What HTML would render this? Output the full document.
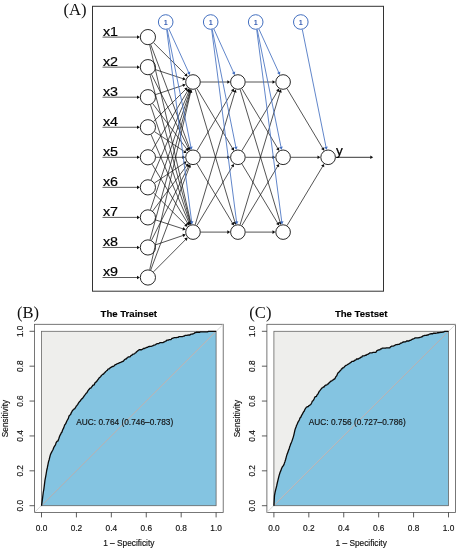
<!DOCTYPE html>
<html lang="en"><head><meta charset="utf-8"><title>Figure</title>
<style>html,body{margin:0;padding:0;background:#fff}body{width:458px;height:550px;overflow:hidden}</style></head>
<body>
<svg width="458" height="550" viewBox="0 0 458 550" style="display:block">
<rect x="0" y="0" width="458" height="550" fill="#fff"/>
<rect x="92.5" y="6.3" width="291" height="284.9" fill="none" stroke="#333" stroke-width="1"/>
<text x="63.4" y="14.6" font-family="'Liberation Serif', 'Times New Roman', serif" font-size="16.7" fill="#111">(A)</text>
<line x1="153.57" y1="42.74" x2="186.48" y2="75.51" stroke="#111" stroke-width="0.72"/><polygon points="187.54,76.57 184.22,75.80 186.76,73.25" fill="#111"/>
<line x1="150.71" y1="44.59" x2="189.77" y2="148.69" stroke="#111" stroke-width="0.72"/><polygon points="190.30,150.09 187.59,148.01 190.96,146.74" fill="#111"/>
<line x1="149.70" y1="44.89" x2="190.93" y2="223.14" stroke="#111" stroke-width="0.72"/><polygon points="191.26,224.60 188.86,222.18 192.37,221.37" fill="#111"/>
<line x1="155.50" y1="69.65" x2="184.26" y2="79.12" stroke="#111" stroke-width="0.72"/><polygon points="185.69,79.59 182.37,80.39 183.49,76.98" fill="#111"/>
<line x1="151.48" y1="74.30" x2="188.88" y2="149.07" stroke="#111" stroke-width="0.72"/><polygon points="189.55,150.41 186.65,148.63 189.87,147.01" fill="#111"/>
<line x1="150.01" y1="74.87" x2="190.57" y2="223.23" stroke="#111" stroke-width="0.72"/><polygon points="190.97,224.67 188.47,222.35 191.94,221.40" fill="#111"/>
<line x1="155.48" y1="94.64" x2="184.28" y2="84.94" stroke="#111" stroke-width="0.72"/><polygon points="185.70,84.46 183.53,87.09 182.38,83.68" fill="#111"/>
<line x1="152.70" y1="103.60" x2="187.48" y2="149.94" stroke="#111" stroke-width="0.72"/><polygon points="188.38,151.14 185.20,149.90 188.08,147.74" fill="#111"/>
<line x1="150.44" y1="104.79" x2="190.08" y2="223.37" stroke="#111" stroke-width="0.72"/><polygon points="190.56,224.80 187.93,222.62 191.35,221.48" fill="#111"/>
<line x1="153.55" y1="121.58" x2="186.51" y2="88.52" stroke="#111" stroke-width="0.72"/><polygon points="187.56,87.45 186.79,90.78 184.24,88.24" fill="#111"/>
<line x1="154.56" y1="131.69" x2="185.34" y2="152.20" stroke="#111" stroke-width="0.72"/><polygon points="186.59,153.03 183.18,152.92 185.18,149.92" fill="#111"/>
<line x1="151.06" y1="134.60" x2="189.36" y2="223.65" stroke="#111" stroke-width="0.72"/><polygon points="189.96,225.03 187.16,223.07 190.47,221.65" fill="#111"/>
<line x1="152.01" y1="150.44" x2="188.27" y2="89.89" stroke="#111" stroke-width="0.72"/><polygon points="189.04,88.61 189.10,92.02 186.01,90.17" fill="#111"/>
<line x1="155.90" y1="157.30" x2="183.80" y2="157.30" stroke="#111" stroke-width="0.72"/><polygon points="185.30,157.30 182.40,159.10 182.40,155.50" fill="#111"/>
<line x1="152.03" y1="164.15" x2="188.25" y2="224.22" stroke="#111" stroke-width="0.72"/><polygon points="189.02,225.51 185.99,223.95 189.07,222.09" fill="#111"/>
<line x1="151.05" y1="180.00" x2="189.38" y2="90.46" stroke="#111" stroke-width="0.72"/><polygon points="189.97,89.08 190.48,92.45 187.17,91.04" fill="#111"/>
<line x1="154.56" y1="182.91" x2="185.34" y2="162.40" stroke="#111" stroke-width="0.72"/><polygon points="186.59,161.57 185.18,164.68 183.18,161.68" fill="#111"/>
<line x1="153.58" y1="192.98" x2="186.47" y2="225.62" stroke="#111" stroke-width="0.72"/><polygon points="187.53,226.68 184.21,225.91 186.74,223.36" fill="#111"/>
<line x1="150.43" y1="209.81" x2="190.09" y2="90.73" stroke="#111" stroke-width="0.72"/><polygon points="190.57,89.31 191.36,92.63 187.94,91.49" fill="#111"/>
<line x1="152.70" y1="211.00" x2="187.48" y2="164.66" stroke="#111" stroke-width="0.72"/><polygon points="188.38,163.46 188.08,166.86 185.20,164.70" fill="#111"/>
<line x1="155.51" y1="219.88" x2="184.25" y2="229.25" stroke="#111" stroke-width="0.72"/><polygon points="185.68,229.71 182.36,230.53 183.48,227.10" fill="#111"/>
<line x1="150.00" y1="239.73" x2="190.58" y2="90.88" stroke="#111" stroke-width="0.72"/><polygon points="190.97,89.43 191.95,92.70 188.48,91.75" fill="#111"/>
<line x1="151.48" y1="240.30" x2="188.88" y2="165.53" stroke="#111" stroke-width="0.72"/><polygon points="189.55,164.19 189.87,167.59 186.65,165.97" fill="#111"/>
<line x1="155.47" y1="244.87" x2="184.29" y2="235.06" stroke="#111" stroke-width="0.72"/><polygon points="185.71,234.58 183.55,237.22 182.39,233.81" fill="#111"/>
<line x1="149.70" y1="269.70" x2="190.93" y2="90.96" stroke="#111" stroke-width="0.72"/><polygon points="191.27,89.50 192.37,92.73 188.86,91.92" fill="#111"/>
<line x1="150.71" y1="270.01" x2="189.77" y2="165.91" stroke="#111" stroke-width="0.72"/><polygon points="190.30,164.51 190.96,167.86 187.59,166.59" fill="#111"/>
<line x1="153.54" y1="271.82" x2="186.52" y2="238.63" stroke="#111" stroke-width="0.72"/><polygon points="187.57,237.56 186.81,240.89 184.25,238.35" fill="#111"/>
<line x1="200.70" y1="82.00" x2="228.70" y2="82.00" stroke="#111" stroke-width="0.72"/><polygon points="230.20,82.00 227.30,83.80 227.30,80.20" fill="#111"/>
<line x1="196.94" y1="88.61" x2="233.19" y2="149.40" stroke="#111" stroke-width="0.72"/><polygon points="233.96,150.69 230.93,149.12 234.02,147.27" fill="#111"/>
<line x1="195.21" y1="89.38" x2="235.26" y2="223.29" stroke="#111" stroke-width="0.72"/><polygon points="235.69,224.72 233.14,222.46 236.59,221.43" fill="#111"/>
<line x1="196.94" y1="150.69" x2="233.19" y2="89.90" stroke="#111" stroke-width="0.72"/><polygon points="233.96,88.61 234.02,92.03 230.93,90.18" fill="#111"/>
<line x1="200.70" y1="157.30" x2="228.70" y2="157.30" stroke="#111" stroke-width="0.72"/><polygon points="230.20,157.30 227.30,159.10 227.30,155.50" fill="#111"/>
<line x1="196.96" y1="163.90" x2="233.17" y2="224.21" stroke="#111" stroke-width="0.72"/><polygon points="233.94,225.50 230.90,223.94 233.99,222.09" fill="#111"/>
<line x1="195.21" y1="224.72" x2="235.26" y2="90.81" stroke="#111" stroke-width="0.72"/><polygon points="235.69,89.38 236.59,92.67 233.14,91.64" fill="#111"/>
<line x1="196.96" y1="225.50" x2="233.17" y2="165.19" stroke="#111" stroke-width="0.72"/><polygon points="233.94,163.90 233.99,167.31 230.90,165.46" fill="#111"/>
<line x1="200.70" y1="232.10" x2="228.70" y2="232.10" stroke="#111" stroke-width="0.72"/><polygon points="230.20,232.10 227.30,233.90 227.30,230.30" fill="#111"/>
<line x1="245.60" y1="82.00" x2="273.90" y2="82.00" stroke="#111" stroke-width="0.72"/><polygon points="275.40,82.00 272.50,83.80 272.50,80.20" fill="#111"/>
<line x1="241.86" y1="88.60" x2="278.37" y2="149.41" stroke="#111" stroke-width="0.72"/><polygon points="279.14,150.70 276.10,149.14 279.19,147.29" fill="#111"/>
<line x1="240.12" y1="89.37" x2="280.45" y2="223.29" stroke="#111" stroke-width="0.72"/><polygon points="280.88,224.73 278.32,222.47 281.77,221.43" fill="#111"/>
<line x1="241.86" y1="150.70" x2="278.37" y2="89.89" stroke="#111" stroke-width="0.72"/><polygon points="279.14,88.60 279.19,92.01 276.10,90.16" fill="#111"/>
<line x1="245.60" y1="157.30" x2="273.90" y2="157.30" stroke="#111" stroke-width="0.72"/><polygon points="275.40,157.30 272.50,159.10 272.50,155.50" fill="#111"/>
<line x1="241.88" y1="163.89" x2="278.34" y2="224.23" stroke="#111" stroke-width="0.72"/><polygon points="279.12,225.51 276.08,223.96 279.16,222.10" fill="#111"/>
<line x1="240.12" y1="224.73" x2="280.45" y2="90.81" stroke="#111" stroke-width="0.72"/><polygon points="280.88,89.37 281.77,92.67 278.32,91.63" fill="#111"/>
<line x1="241.88" y1="225.51" x2="278.34" y2="165.17" stroke="#111" stroke-width="0.72"/><polygon points="279.12,163.89 279.16,167.30 276.08,165.44" fill="#111"/>
<line x1="245.60" y1="232.10" x2="273.90" y2="232.10" stroke="#111" stroke-width="0.72"/><polygon points="275.40,232.10 272.50,233.90 272.50,230.30" fill="#111"/>
<line x1="287.05" y1="88.61" x2="323.38" y2="149.40" stroke="#111" stroke-width="0.72"/><polygon points="324.15,150.69 321.12,149.12 324.21,147.28" fill="#111"/>
<line x1="290.80" y1="157.30" x2="318.90" y2="157.30" stroke="#111" stroke-width="0.72"/><polygon points="320.40,157.30 317.50,159.10 317.50,155.50" fill="#111"/>
<line x1="287.07" y1="225.50" x2="323.36" y2="165.18" stroke="#111" stroke-width="0.72"/><polygon points="324.13,163.90 324.18,167.31 321.09,165.46" fill="#111"/>
<line x1="168.89" y1="29.01" x2="189.19" y2="73.63" stroke="#4470c0" stroke-width="0.85"/><polygon points="189.81,74.99 186.97,73.10 190.25,71.61" fill="#4470c0"/>
<line x1="167.22" y1="29.55" x2="191.18" y2="148.28" stroke="#4470c0" stroke-width="0.85"/><polygon points="191.48,149.75 189.14,147.27 192.67,146.55" fill="#4470c0"/>
<line x1="166.69" y1="29.64" x2="191.81" y2="222.98" stroke="#4470c0" stroke-width="0.85"/><polygon points="192.01,224.46 189.85,221.82 193.42,221.36" fill="#4470c0"/>
<line x1="213.88" y1="29.01" x2="234.10" y2="73.62" stroke="#4470c0" stroke-width="0.85"/><polygon points="234.72,74.99 231.88,73.09 235.16,71.60" fill="#4470c0"/>
<line x1="212.22" y1="29.55" x2="236.09" y2="148.28" stroke="#4470c0" stroke-width="0.85"/><polygon points="236.38,149.75 234.05,147.26 237.58,146.55" fill="#4470c0"/>
<line x1="211.69" y1="29.64" x2="236.72" y2="222.98" stroke="#4470c0" stroke-width="0.85"/><polygon points="236.91,224.46 234.75,221.82 238.32,221.36" fill="#4470c0"/>
<line x1="258.90" y1="29.00" x2="279.28" y2="73.63" stroke="#4470c0" stroke-width="0.85"/><polygon points="279.90,75.00 277.06,73.11 280.33,71.61" fill="#4470c0"/>
<line x1="257.23" y1="29.55" x2="281.27" y2="148.28" stroke="#4470c0" stroke-width="0.85"/><polygon points="281.57,149.75 279.23,147.27 282.76,146.55" fill="#4470c0"/>
<line x1="256.70" y1="29.64" x2="281.91" y2="222.98" stroke="#4470c0" stroke-width="0.85"/><polygon points="282.10,224.46 279.94,221.82 283.51,221.36" fill="#4470c0"/>
<line x1="302.32" y1="29.55" x2="326.28" y2="148.28" stroke="#4470c0" stroke-width="0.85"/><polygon points="326.58,149.75 324.24,147.27 327.77,146.55" fill="#4470c0"/>
<line x1="102.5" y1="37.10" x2="138.40" y2="37.10" stroke="#222" stroke-width="0.75"/>
<polygon points="139.90,37.10 137.00,38.90 137.00,35.30" fill="#111"/>
<text x="102.9" y="35.80" font-family="'Liberation Sans', Arial, Helvetica, sans-serif" font-size="13.4" textLength="15.1" lengthAdjust="spacingAndGlyphs" fill="#000" stroke="#000" stroke-width="0.2">x1</text>
<line x1="102.5" y1="67.15" x2="138.40" y2="67.15" stroke="#222" stroke-width="0.75"/>
<polygon points="139.90,67.15 137.00,68.95 137.00,65.35" fill="#111"/>
<text x="102.9" y="65.85" font-family="'Liberation Sans', Arial, Helvetica, sans-serif" font-size="13.4" textLength="15.1" lengthAdjust="spacingAndGlyphs" fill="#000" stroke="#000" stroke-width="0.2">x2</text>
<line x1="102.5" y1="97.20" x2="138.40" y2="97.20" stroke="#222" stroke-width="0.75"/>
<polygon points="139.90,97.20 137.00,99.00 137.00,95.40" fill="#111"/>
<text x="102.9" y="95.90" font-family="'Liberation Sans', Arial, Helvetica, sans-serif" font-size="13.4" textLength="15.1" lengthAdjust="spacingAndGlyphs" fill="#000" stroke="#000" stroke-width="0.2">x3</text>
<line x1="102.5" y1="127.25" x2="138.40" y2="127.25" stroke="#222" stroke-width="0.75"/>
<polygon points="139.90,127.25 137.00,129.05 137.00,125.45" fill="#111"/>
<text x="102.9" y="125.95" font-family="'Liberation Sans', Arial, Helvetica, sans-serif" font-size="13.4" textLength="15.1" lengthAdjust="spacingAndGlyphs" fill="#000" stroke="#000" stroke-width="0.2">x4</text>
<line x1="102.5" y1="157.30" x2="138.40" y2="157.30" stroke="#222" stroke-width="0.75"/>
<polygon points="139.90,157.30 137.00,159.10 137.00,155.50" fill="#111"/>
<text x="102.9" y="156.00" font-family="'Liberation Sans', Arial, Helvetica, sans-serif" font-size="13.4" textLength="15.1" lengthAdjust="spacingAndGlyphs" fill="#000" stroke="#000" stroke-width="0.2">x5</text>
<line x1="102.5" y1="187.35" x2="138.40" y2="187.35" stroke="#222" stroke-width="0.75"/>
<polygon points="139.90,187.35 137.00,189.15 137.00,185.55" fill="#111"/>
<text x="102.9" y="186.05" font-family="'Liberation Sans', Arial, Helvetica, sans-serif" font-size="13.4" textLength="15.1" lengthAdjust="spacingAndGlyphs" fill="#000" stroke="#000" stroke-width="0.2">x6</text>
<line x1="102.5" y1="217.40" x2="138.40" y2="217.40" stroke="#222" stroke-width="0.75"/>
<polygon points="139.90,217.40 137.00,219.20 137.00,215.60" fill="#111"/>
<text x="102.9" y="216.10" font-family="'Liberation Sans', Arial, Helvetica, sans-serif" font-size="13.4" textLength="15.1" lengthAdjust="spacingAndGlyphs" fill="#000" stroke="#000" stroke-width="0.2">x7</text>
<line x1="102.5" y1="247.45" x2="138.40" y2="247.45" stroke="#222" stroke-width="0.75"/>
<polygon points="139.90,247.45 137.00,249.25 137.00,245.65" fill="#111"/>
<text x="102.9" y="246.15" font-family="'Liberation Sans', Arial, Helvetica, sans-serif" font-size="13.4" textLength="15.1" lengthAdjust="spacingAndGlyphs" fill="#000" stroke="#000" stroke-width="0.2">x8</text>
<line x1="102.5" y1="277.50" x2="138.40" y2="277.50" stroke="#222" stroke-width="0.75"/>
<polygon points="139.90,277.50 137.00,279.30 137.00,275.70" fill="#111"/>
<text x="102.9" y="276.20" font-family="'Liberation Sans', Arial, Helvetica, sans-serif" font-size="13.4" textLength="15.1" lengthAdjust="spacingAndGlyphs" fill="#000" stroke="#000" stroke-width="0.2">x9</text>
<line x1="335.80" y1="157.3" x2="371.5" y2="157.3" stroke="#111" stroke-width="0.85"/>
<polygon points="373.20,157.30 370.30,159.10 370.30,155.50" fill="#111"/>
<text x="336.1" y="155.4" font-family="'Liberation Sans', Arial, Helvetica, sans-serif" font-size="13.6" fill="#000" stroke="#000" stroke-width="0.2">y</text>
<circle cx="147.9" cy="37.10" r="7.6" fill="none" stroke="#111" stroke-width="0.9"/>
<circle cx="147.9" cy="67.15" r="7.6" fill="none" stroke="#111" stroke-width="0.9"/>
<circle cx="147.9" cy="97.20" r="7.6" fill="none" stroke="#111" stroke-width="0.9"/>
<circle cx="147.9" cy="127.25" r="7.6" fill="none" stroke="#111" stroke-width="0.9"/>
<circle cx="147.9" cy="157.30" r="7.6" fill="none" stroke="#111" stroke-width="0.9"/>
<circle cx="147.9" cy="187.35" r="7.6" fill="none" stroke="#111" stroke-width="0.9"/>
<circle cx="147.9" cy="217.40" r="7.6" fill="none" stroke="#111" stroke-width="0.9"/>
<circle cx="147.9" cy="247.45" r="7.6" fill="none" stroke="#111" stroke-width="0.9"/>
<circle cx="147.9" cy="277.50" r="7.6" fill="none" stroke="#111" stroke-width="0.9"/>
<circle cx="193.0" cy="82.0" r="7.3" fill="none" stroke="#111" stroke-width="0.9"/>
<circle cx="193.0" cy="157.3" r="7.3" fill="none" stroke="#111" stroke-width="0.9"/>
<circle cx="193.0" cy="232.1" r="7.3" fill="none" stroke="#111" stroke-width="0.9"/>
<circle cx="237.9" cy="82.0" r="7.3" fill="none" stroke="#111" stroke-width="0.9"/>
<circle cx="237.9" cy="157.3" r="7.3" fill="none" stroke="#111" stroke-width="0.9"/>
<circle cx="237.9" cy="232.1" r="7.3" fill="none" stroke="#111" stroke-width="0.9"/>
<circle cx="283.1" cy="82.0" r="7.3" fill="none" stroke="#111" stroke-width="0.9"/>
<circle cx="283.1" cy="157.3" r="7.3" fill="none" stroke="#111" stroke-width="0.9"/>
<circle cx="283.1" cy="232.1" r="7.3" fill="none" stroke="#111" stroke-width="0.9"/>
<circle cx="328.1" cy="157.3" r="7.3" fill="none" stroke="#111" stroke-width="0.9"/>
<circle cx="165.7" cy="22.0" r="7.3" fill="none" stroke="#4470c0" stroke-width="1"/>
<text x="165.7" y="24.9" text-anchor="middle" font-family="'Liberation Sans', Arial, Helvetica, sans-serif" font-size="7.2" font-weight="bold" fill="#3c62b4">1</text>
<circle cx="210.7" cy="22.0" r="7.3" fill="none" stroke="#4470c0" stroke-width="1"/>
<text x="210.7" y="24.9" text-anchor="middle" font-family="'Liberation Sans', Arial, Helvetica, sans-serif" font-size="7.2" font-weight="bold" fill="#3c62b4">1</text>
<circle cx="255.7" cy="22.0" r="7.3" fill="none" stroke="#4470c0" stroke-width="1"/>
<text x="255.7" y="24.9" text-anchor="middle" font-family="'Liberation Sans', Arial, Helvetica, sans-serif" font-size="7.2" font-weight="bold" fill="#3c62b4">1</text>
<circle cx="300.8" cy="22.0" r="7.3" fill="none" stroke="#4470c0" stroke-width="1"/>
<text x="300.8" y="24.9" text-anchor="middle" font-family="'Liberation Sans', Arial, Helvetica, sans-serif" font-size="7.2" font-weight="bold" fill="#3c62b4">1</text>
<text x="16.9" y="317.7" font-family="'Liberation Serif', 'Times New Roman', serif" font-size="16.6" fill="#111">(B)</text>
<text x="128.8" y="317.4" text-anchor="middle" font-family="'Liberation Sans', Arial, Helvetica, sans-serif" font-size="9.6" font-weight="bold" fill="#000" stroke="#000" stroke-width="0.15">The Trainset</text>
<rect x="34.5" y="324.3" width="188.7" height="188.1" fill="#fff" stroke="#555" stroke-width="0.8"/>
<rect x="41.5" y="331.3" width="174.6" height="174.4" fill="#eeeeec"/>
<path d="M41.50,505.70 L42.08,501.85 L42.66,497.24 L43.25,492.51 L43.83,489.27 L44.41,484.88 L44.99,480.01 L45.57,477.18 L46.16,473.86 L46.74,470.25 L47.32,467.73 L47.90,464.88 L48.48,461.93 L49.07,460.02 L49.65,457.62 L50.23,455.34 L50.81,453.80 L51.39,452.64 L51.98,451.45 L52.56,450.49 L53.14,449.26 L53.72,447.66 L54.30,446.51 L54.89,445.65 L55.47,444.83 L56.05,442.89 L56.63,441.94 L57.21,441.17 L57.80,441.17 L58.38,439.88 L58.96,438.26 L59.54,436.35 L60.12,435.17 L60.71,434.13 L61.29,432.79 L61.87,432.26 L62.45,430.43 L63.03,429.10 L63.62,428.12 L64.20,426.36 L64.78,424.70 L65.36,424.24 L65.94,423.14 L66.53,421.68 L67.11,420.46 L67.69,419.46 L68.27,418.57 L68.85,416.58 L69.44,415.35 L70.02,415.02 L70.60,414.55 L71.18,412.93 L71.76,411.91 L72.35,410.72 L72.93,410.01 L73.51,409.76 L74.09,408.85 L74.67,408.81 L75.26,407.97 L75.84,406.96 L76.42,405.90 L77.00,405.38 L77.58,404.55 L78.17,403.57 L78.75,402.74 L79.33,401.87 L79.91,401.20 L80.49,400.66 L81.08,399.66 L81.66,399.03 L82.24,398.61 L82.82,397.96 L83.40,397.05 L83.99,396.25 L84.57,395.39 L85.15,394.62 L85.73,393.80 L86.31,393.11 L86.90,392.73 L87.48,391.64 L88.06,390.55 L88.64,389.83 L89.22,389.29 L89.81,388.46 L90.39,388.18 L90.97,388.02 L91.55,387.00 L92.13,386.48 L92.72,385.37 L93.30,385.06 L93.88,385.06 L94.46,384.25 L95.04,382.70 L95.63,382.21 L96.21,381.95 L96.79,381.31 L97.37,380.30 L97.95,379.52 L98.54,378.93 L99.12,377.93 L99.70,377.39 L100.28,377.05 L100.86,376.39 L101.45,375.43 L102.03,374.87 L102.61,374.28 L103.19,374.28 L103.77,373.80 L104.36,372.96 L104.94,372.56 L105.52,371.64 L106.10,371.14 L106.68,370.61 L107.27,370.47 L107.85,369.32 L108.43,368.94 L109.01,368.94 L109.59,368.71 L110.18,367.56 L110.76,367.56 L111.34,367.16 L111.92,366.65 L112.50,366.48 L113.09,366.48 L113.67,366.12 L114.25,365.65 L114.83,365.02 L115.41,364.64 L116.00,364.53 L116.58,364.06 L117.16,363.76 L117.74,363.55 L118.32,363.33 L118.91,363.15 L119.49,362.61 L120.07,362.61 L120.65,362.48 L121.23,361.95 L121.82,361.95 L122.40,361.46 L122.98,361.46 L123.56,360.95 L124.14,360.08 L124.73,359.47 L125.31,359.18 L125.89,358.92 L126.47,358.92 L127.05,357.83 L127.64,357.49 L128.22,356.96 L128.80,356.96 L129.38,356.84 L129.96,356.84 L130.55,356.04 L131.13,355.28 L131.71,355.28 L132.29,354.90 L132.87,354.13 L133.46,354.13 L134.04,354.13 L134.62,353.63 L135.20,353.00 L135.78,352.72 L136.37,352.05 L136.95,351.53 L137.53,351.03 L138.11,350.62 L138.69,350.04 L139.28,349.73 L139.86,349.73 L140.44,349.73 L141.02,349.73 L141.60,349.73 L142.19,349.42 L142.77,349.01 L143.35,348.52 L143.93,348.52 L144.51,348.52 L145.10,348.19 L145.68,347.90 L146.26,347.70 L146.84,347.42 L147.42,347.41 L148.01,346.85 L148.59,346.58 L149.17,346.49 L149.75,346.49 L150.33,346.30 L150.92,346.30 L151.50,346.30 L152.08,345.94 L152.66,345.94 L153.24,345.43 L153.83,345.05 L154.41,345.05 L154.99,344.88 L155.57,344.62 L156.15,344.15 L156.74,343.77 L157.32,343.68 L157.90,343.68 L158.48,343.55 L159.06,343.32 L159.65,342.86 L160.23,342.68 L160.81,342.68 L161.39,342.68 L161.97,342.68 L162.56,342.58 L163.14,342.54 L163.72,342.13 L164.30,341.95 L164.88,341.58 L165.47,341.18 L166.05,341.18 L166.63,340.24 L167.21,340.24 L167.79,340.11 L168.38,340.11 L168.96,339.72 L169.54,339.72 L170.12,339.72 L170.70,339.72 L171.29,339.25 L171.87,338.36 L172.45,338.36 L173.03,338.07 L173.61,337.94 L174.20,337.71 L174.78,337.63 L175.36,337.63 L175.94,337.59 L176.52,337.59 L177.11,337.38 L177.69,337.38 L178.27,337.38 L178.85,336.69 L179.43,336.69 L180.02,336.69 L180.60,336.62 L181.18,336.62 L181.76,336.62 L182.34,336.62 L182.93,336.46 L183.51,336.19 L184.09,336.19 L184.67,335.71 L185.25,335.30 L185.84,335.30 L186.42,335.30 L187.00,335.30 L187.58,335.07 L188.16,335.07 L188.75,335.02 L189.33,335.02 L189.91,335.02 L190.49,334.63 L191.07,334.08 L191.66,334.08 L192.24,334.08 L192.82,333.81 L193.40,333.75 L193.98,333.52 L194.57,332.93 L195.15,332.67 L195.73,332.67 L196.31,332.24 L196.89,332.24 L197.48,332.24 L198.06,332.24 L198.64,332.24 L199.22,332.24 L199.80,332.24 L200.39,331.90 L200.97,331.90 L201.55,331.90 L202.13,331.90 L202.71,331.90 L203.30,331.90 L203.88,331.90 L204.46,331.90 L205.04,331.90 L205.62,331.90 L206.21,331.90 L206.79,331.90 L207.37,331.90 L207.95,331.65 L208.53,331.42 L209.12,331.42 L209.70,331.42 L210.28,331.42 L210.86,331.42 L211.44,331.30 L212.03,331.30 L212.61,331.30 L213.19,331.30 L213.77,331.30 L214.35,331.30 L214.94,331.30 L215.52,331.30 L216.10,331.30 L216.10,505.70 L41.50,505.70 Z" fill="#84c4e1"/>
<line x1="34.5" y1="512.4" x2="223.2" y2="324.3" stroke="#d4d4d4" stroke-width="0.9"/>
<line x1="41.5" y1="505.7" x2="216.1" y2="331.3" stroke="#a9abb0" stroke-width="1"/>
<rect x="41.5" y="331.3" width="174.6" height="174.4" fill="none" stroke="#666" stroke-width="0.8"/>
<path d="M41.50,505.70 L42.08,501.85 L42.66,497.24 L43.25,492.51 L43.83,489.27 L44.41,484.88 L44.99,480.01 L45.57,477.18 L46.16,473.86 L46.74,470.25 L47.32,467.73 L47.90,464.88 L48.48,461.93 L49.07,460.02 L49.65,457.62 L50.23,455.34 L50.81,453.80 L51.39,452.64 L51.98,451.45 L52.56,450.49 L53.14,449.26 L53.72,447.66 L54.30,446.51 L54.89,445.65 L55.47,444.83 L56.05,442.89 L56.63,441.94 L57.21,441.17 L57.80,441.17 L58.38,439.88 L58.96,438.26 L59.54,436.35 L60.12,435.17 L60.71,434.13 L61.29,432.79 L61.87,432.26 L62.45,430.43 L63.03,429.10 L63.62,428.12 L64.20,426.36 L64.78,424.70 L65.36,424.24 L65.94,423.14 L66.53,421.68 L67.11,420.46 L67.69,419.46 L68.27,418.57 L68.85,416.58 L69.44,415.35 L70.02,415.02 L70.60,414.55 L71.18,412.93 L71.76,411.91 L72.35,410.72 L72.93,410.01 L73.51,409.76 L74.09,408.85 L74.67,408.81 L75.26,407.97 L75.84,406.96 L76.42,405.90 L77.00,405.38 L77.58,404.55 L78.17,403.57 L78.75,402.74 L79.33,401.87 L79.91,401.20 L80.49,400.66 L81.08,399.66 L81.66,399.03 L82.24,398.61 L82.82,397.96 L83.40,397.05 L83.99,396.25 L84.57,395.39 L85.15,394.62 L85.73,393.80 L86.31,393.11 L86.90,392.73 L87.48,391.64 L88.06,390.55 L88.64,389.83 L89.22,389.29 L89.81,388.46 L90.39,388.18 L90.97,388.02 L91.55,387.00 L92.13,386.48 L92.72,385.37 L93.30,385.06 L93.88,385.06 L94.46,384.25 L95.04,382.70 L95.63,382.21 L96.21,381.95 L96.79,381.31 L97.37,380.30 L97.95,379.52 L98.54,378.93 L99.12,377.93 L99.70,377.39 L100.28,377.05 L100.86,376.39 L101.45,375.43 L102.03,374.87 L102.61,374.28 L103.19,374.28 L103.77,373.80 L104.36,372.96 L104.94,372.56 L105.52,371.64 L106.10,371.14 L106.68,370.61 L107.27,370.47 L107.85,369.32 L108.43,368.94 L109.01,368.94 L109.59,368.71 L110.18,367.56 L110.76,367.56 L111.34,367.16 L111.92,366.65 L112.50,366.48 L113.09,366.48 L113.67,366.12 L114.25,365.65 L114.83,365.02 L115.41,364.64 L116.00,364.53 L116.58,364.06 L117.16,363.76 L117.74,363.55 L118.32,363.33 L118.91,363.15 L119.49,362.61 L120.07,362.61 L120.65,362.48 L121.23,361.95 L121.82,361.95 L122.40,361.46 L122.98,361.46 L123.56,360.95 L124.14,360.08 L124.73,359.47 L125.31,359.18 L125.89,358.92 L126.47,358.92 L127.05,357.83 L127.64,357.49 L128.22,356.96 L128.80,356.96 L129.38,356.84 L129.96,356.84 L130.55,356.04 L131.13,355.28 L131.71,355.28 L132.29,354.90 L132.87,354.13 L133.46,354.13 L134.04,354.13 L134.62,353.63 L135.20,353.00 L135.78,352.72 L136.37,352.05 L136.95,351.53 L137.53,351.03 L138.11,350.62 L138.69,350.04 L139.28,349.73 L139.86,349.73 L140.44,349.73 L141.02,349.73 L141.60,349.73 L142.19,349.42 L142.77,349.01 L143.35,348.52 L143.93,348.52 L144.51,348.52 L145.10,348.19 L145.68,347.90 L146.26,347.70 L146.84,347.42 L147.42,347.41 L148.01,346.85 L148.59,346.58 L149.17,346.49 L149.75,346.49 L150.33,346.30 L150.92,346.30 L151.50,346.30 L152.08,345.94 L152.66,345.94 L153.24,345.43 L153.83,345.05 L154.41,345.05 L154.99,344.88 L155.57,344.62 L156.15,344.15 L156.74,343.77 L157.32,343.68 L157.90,343.68 L158.48,343.55 L159.06,343.32 L159.65,342.86 L160.23,342.68 L160.81,342.68 L161.39,342.68 L161.97,342.68 L162.56,342.58 L163.14,342.54 L163.72,342.13 L164.30,341.95 L164.88,341.58 L165.47,341.18 L166.05,341.18 L166.63,340.24 L167.21,340.24 L167.79,340.11 L168.38,340.11 L168.96,339.72 L169.54,339.72 L170.12,339.72 L170.70,339.72 L171.29,339.25 L171.87,338.36 L172.45,338.36 L173.03,338.07 L173.61,337.94 L174.20,337.71 L174.78,337.63 L175.36,337.63 L175.94,337.59 L176.52,337.59 L177.11,337.38 L177.69,337.38 L178.27,337.38 L178.85,336.69 L179.43,336.69 L180.02,336.69 L180.60,336.62 L181.18,336.62 L181.76,336.62 L182.34,336.62 L182.93,336.46 L183.51,336.19 L184.09,336.19 L184.67,335.71 L185.25,335.30 L185.84,335.30 L186.42,335.30 L187.00,335.30 L187.58,335.07 L188.16,335.07 L188.75,335.02 L189.33,335.02 L189.91,335.02 L190.49,334.63 L191.07,334.08 L191.66,334.08 L192.24,334.08 L192.82,333.81 L193.40,333.75 L193.98,333.52 L194.57,332.93 L195.15,332.67 L195.73,332.67 L196.31,332.24 L196.89,332.24 L197.48,332.24 L198.06,332.24 L198.64,332.24 L199.22,332.24 L199.80,332.24 L200.39,331.90 L200.97,331.90 L201.55,331.90 L202.13,331.90 L202.71,331.90 L203.30,331.90 L203.88,331.90 L204.46,331.90 L205.04,331.90 L205.62,331.90 L206.21,331.90 L206.79,331.90 L207.37,331.90 L207.95,331.65 L208.53,331.42 L209.12,331.42 L209.70,331.42 L210.28,331.42 L210.86,331.42 L211.44,331.30 L212.03,331.30 L212.61,331.30 L213.19,331.30 L213.77,331.30 L214.35,331.30 L214.94,331.30 L215.52,331.30 L216.10,331.30" fill="none" stroke="#0a0a0a" stroke-width="1.3" stroke-linejoin="round"/>
<line x1="29.5" y1="505.70" x2="34.5" y2="505.70" stroke="#333" stroke-width="0.8"/>
<line x1="41.50" y1="512.4" x2="41.50" y2="517.4" stroke="#333" stroke-width="0.8"/>
<text x="41.50" y="531.4" text-anchor="middle" font-family="'Liberation Sans', Arial, Helvetica, sans-serif" font-size="8.3" fill="#111" stroke="#111" stroke-width="0.15">0.0</text>
<text transform="translate(23.00,505.70) rotate(-90)" text-anchor="middle" font-family="'Liberation Sans', Arial, Helvetica, sans-serif" font-size="8.3" fill="#111" stroke="#111" stroke-width="0.15">0.0</text>
<line x1="29.5" y1="470.82" x2="34.5" y2="470.82" stroke="#333" stroke-width="0.8"/>
<line x1="76.42" y1="512.4" x2="76.42" y2="517.4" stroke="#333" stroke-width="0.8"/>
<text x="76.42" y="531.4" text-anchor="middle" font-family="'Liberation Sans', Arial, Helvetica, sans-serif" font-size="8.3" fill="#111" stroke="#111" stroke-width="0.15">0.2</text>
<text transform="translate(23.00,470.82) rotate(-90)" text-anchor="middle" font-family="'Liberation Sans', Arial, Helvetica, sans-serif" font-size="8.3" fill="#111" stroke="#111" stroke-width="0.15">0.2</text>
<line x1="29.5" y1="435.94" x2="34.5" y2="435.94" stroke="#333" stroke-width="0.8"/>
<line x1="111.34" y1="512.4" x2="111.34" y2="517.4" stroke="#333" stroke-width="0.8"/>
<text x="111.34" y="531.4" text-anchor="middle" font-family="'Liberation Sans', Arial, Helvetica, sans-serif" font-size="8.3" fill="#111" stroke="#111" stroke-width="0.15">0.4</text>
<text transform="translate(23.00,435.94) rotate(-90)" text-anchor="middle" font-family="'Liberation Sans', Arial, Helvetica, sans-serif" font-size="8.3" fill="#111" stroke="#111" stroke-width="0.15">0.4</text>
<line x1="29.5" y1="401.06" x2="34.5" y2="401.06" stroke="#333" stroke-width="0.8"/>
<line x1="146.26" y1="512.4" x2="146.26" y2="517.4" stroke="#333" stroke-width="0.8"/>
<text x="146.26" y="531.4" text-anchor="middle" font-family="'Liberation Sans', Arial, Helvetica, sans-serif" font-size="8.3" fill="#111" stroke="#111" stroke-width="0.15">0.6</text>
<text transform="translate(23.00,401.06) rotate(-90)" text-anchor="middle" font-family="'Liberation Sans', Arial, Helvetica, sans-serif" font-size="8.3" fill="#111" stroke="#111" stroke-width="0.15">0.6</text>
<line x1="29.5" y1="366.18" x2="34.5" y2="366.18" stroke="#333" stroke-width="0.8"/>
<line x1="181.18" y1="512.4" x2="181.18" y2="517.4" stroke="#333" stroke-width="0.8"/>
<text x="181.18" y="531.4" text-anchor="middle" font-family="'Liberation Sans', Arial, Helvetica, sans-serif" font-size="8.3" fill="#111" stroke="#111" stroke-width="0.15">0.8</text>
<text transform="translate(23.00,366.18) rotate(-90)" text-anchor="middle" font-family="'Liberation Sans', Arial, Helvetica, sans-serif" font-size="8.3" fill="#111" stroke="#111" stroke-width="0.15">0.8</text>
<line x1="29.5" y1="331.30" x2="34.5" y2="331.30" stroke="#333" stroke-width="0.8"/>
<line x1="216.10" y1="512.4" x2="216.10" y2="517.4" stroke="#333" stroke-width="0.8"/>
<text x="216.10" y="531.4" text-anchor="middle" font-family="'Liberation Sans', Arial, Helvetica, sans-serif" font-size="8.3" fill="#111" stroke="#111" stroke-width="0.15">1.0</text>
<text transform="translate(23.00,331.30) rotate(-90)" text-anchor="middle" font-family="'Liberation Sans', Arial, Helvetica, sans-serif" font-size="8.3" fill="#111" stroke="#111" stroke-width="0.15">1.0</text>
<text x="128.8" y="546" text-anchor="middle" font-family="'Liberation Sans', Arial, Helvetica, sans-serif" font-size="8.3" fill="#111" stroke="#111" stroke-width="0.15">1 – Specificity</text>
<text transform="translate(7.50,418.50) rotate(-90)" text-anchor="middle" font-family="'Liberation Sans', Arial, Helvetica, sans-serif" font-size="8.3" fill="#111" stroke="#111" stroke-width="0.15">Sensitivity</text>
<text x="76.3" y="424.5" font-family="'Liberation Sans', Arial, Helvetica, sans-serif" font-size="8.3" fill="#111" stroke="#111" stroke-width="0.15">AUC: 0.764 (0.746–0.783)</text>
<text x="249.3" y="317.7" font-family="'Liberation Serif', 'Times New Roman', serif" font-size="16.6" fill="#111">(C)</text>
<text x="361.2" y="317.4" text-anchor="middle" font-family="'Liberation Sans', Arial, Helvetica, sans-serif" font-size="9.6" font-weight="bold" fill="#000" stroke="#000" stroke-width="0.15">The Testset</text>
<rect x="266.9" y="324.3" width="188.7" height="188.1" fill="#fff" stroke="#555" stroke-width="0.8"/>
<rect x="273.9" y="331.3" width="174.6" height="174.4" fill="#eeeeec"/>
<path d="M273.90,505.70 L274.48,495.61 L275.06,492.41 L275.65,489.80 L276.23,487.59 L276.81,485.23 L277.39,482.50 L277.97,480.16 L278.56,477.60 L279.14,475.38 L279.72,473.55 L280.30,471.82 L280.88,470.64 L281.47,468.78 L282.05,467.54 L282.63,466.36 L283.21,465.90 L283.79,464.93 L284.38,463.33 L284.96,461.63 L285.54,459.75 L286.12,457.64 L286.70,455.38 L287.29,453.86 L287.87,452.18 L288.45,450.56 L289.03,449.31 L289.61,447.08 L290.20,445.52 L290.78,443.73 L291.36,442.59 L291.94,441.13 L292.52,439.40 L293.11,437.59 L293.69,435.58 L294.27,433.09 L294.85,430.39 L295.43,428.39 L296.02,427.06 L296.60,425.19 L297.18,424.23 L297.76,422.76 L298.34,421.38 L298.93,420.77 L299.51,419.41 L300.09,417.76 L300.67,417.41 L301.25,416.13 L301.84,414.97 L302.42,414.14 L303.00,412.82 L303.58,411.85 L304.16,411.31 L304.75,409.83 L305.33,408.67 L305.91,407.96 L306.49,407.20 L307.07,406.90 L307.66,406.57 L308.24,406.57 L308.82,405.75 L309.40,405.45 L309.98,405.00 L310.57,404.72 L311.15,403.80 L311.73,402.71 L312.31,401.12 L312.89,400.88 L313.48,400.18 L314.06,398.95 L314.64,397.56 L315.22,396.74 L315.80,396.72 L316.39,396.50 L316.97,395.10 L317.55,394.35 L318.13,393.72 L318.71,392.35 L319.30,391.24 L319.88,390.60 L320.46,389.86 L321.04,389.07 L321.62,388.21 L322.21,387.85 L322.79,387.46 L323.37,387.02 L323.95,387.02 L324.53,386.20 L325.12,385.56 L325.70,385.13 L326.28,385.13 L326.86,384.98 L327.44,384.03 L328.03,384.03 L328.61,383.47 L329.19,382.52 L329.77,382.52 L330.35,381.53 L330.94,381.15 L331.52,381.01 L332.10,380.60 L332.68,380.11 L333.26,379.85 L333.85,379.21 L334.43,379.21 L335.01,378.52 L335.59,377.18 L336.17,376.34 L336.76,375.73 L337.34,374.37 L337.92,373.04 L338.50,372.50 L339.08,372.04 L339.67,371.31 L340.25,370.67 L340.83,370.10 L341.41,368.99 L341.99,368.91 L342.58,367.86 L343.16,367.86 L343.74,367.66 L344.32,366.89 L344.90,366.15 L345.49,365.67 L346.07,365.40 L346.65,365.13 L347.23,364.80 L347.81,364.30 L348.40,364.09 L348.98,363.65 L349.56,363.21 L350.14,363.01 L350.72,362.51 L351.31,362.16 L351.89,361.37 L352.47,361.34 L353.05,361.34 L353.63,361.25 L354.22,360.90 L354.80,360.27 L355.38,360.20 L355.96,359.80 L356.54,359.00 L357.13,359.00 L357.71,359.00 L358.29,358.99 L358.87,358.47 L359.45,358.11 L360.04,358.00 L360.62,357.45 L361.20,357.15 L361.78,357.10 L362.36,355.99 L362.95,355.94 L363.53,355.94 L364.11,355.81 L364.69,355.59 L365.27,355.27 L365.86,355.27 L366.44,355.21 L367.02,354.32 L367.60,354.32 L368.18,354.22 L368.77,353.66 L369.35,353.33 L369.93,352.89 L370.51,352.89 L371.09,352.89 L371.68,352.89 L372.26,352.83 L372.84,352.41 L373.42,352.41 L374.00,352.41 L374.59,352.41 L375.17,352.30 L375.75,352.30 L376.33,351.73 L376.91,350.68 L377.50,350.42 L378.08,350.23 L378.66,349.85 L379.24,349.78 L379.82,349.73 L380.41,349.10 L380.99,348.85 L381.57,348.85 L382.15,348.12 L382.73,348.12 L383.32,348.12 L383.90,348.12 L384.48,348.12 L385.06,348.11 L385.64,348.05 L386.23,347.82 L386.81,347.82 L387.39,347.82 L387.97,347.82 L388.55,347.82 L389.14,347.82 L389.72,347.82 L390.30,347.03 L390.88,346.65 L391.46,346.14 L392.05,346.14 L392.63,346.14 L393.21,346.14 L393.79,345.99 L394.37,345.32 L394.96,345.32 L395.54,344.95 L396.12,344.68 L396.70,344.68 L397.28,344.68 L397.87,344.43 L398.45,344.35 L399.03,344.35 L399.61,343.95 L400.19,343.64 L400.78,343.04 L401.36,343.04 L401.94,342.84 L402.52,342.34 L403.10,341.99 L403.69,341.99 L404.27,341.99 L404.85,341.86 L405.43,341.76 L406.01,341.61 L406.60,341.02 L407.18,341.02 L407.76,341.02 L408.34,341.02 L408.92,341.02 L409.51,340.65 L410.09,340.27 L410.67,340.27 L411.25,339.98 L411.83,339.46 L412.42,339.37 L413.00,338.85 L413.58,338.85 L414.16,338.54 L414.74,338.12 L415.33,337.78 L415.91,337.78 L416.49,337.78 L417.07,337.78 L417.65,337.78 L418.24,337.78 L418.82,337.69 L419.40,337.69 L419.98,337.46 L420.56,337.24 L421.15,336.98 L421.73,336.95 L422.31,336.58 L422.89,335.83 L423.47,335.83 L424.06,335.72 L424.64,335.39 L425.22,335.39 L425.80,335.39 L426.38,335.39 L426.97,335.00 L427.55,335.00 L428.13,335.00 L428.71,334.55 L429.29,334.18 L429.88,334.16 L430.46,333.82 L431.04,333.76 L431.62,333.76 L432.20,333.76 L432.79,333.76 L433.37,333.26 L433.95,333.26 L434.53,333.26 L435.11,333.26 L435.70,333.26 L436.28,333.17 L436.86,333.17 L437.44,332.77 L438.02,332.77 L438.61,332.73 L439.19,332.68 L439.77,332.68 L440.35,332.33 L440.93,332.28 L441.52,332.28 L442.10,332.28 L442.68,332.20 L443.26,332.17 L443.84,331.74 L444.43,331.51 L445.01,331.39 L445.59,331.39 L446.17,331.30 L446.75,331.30 L447.34,331.30 L447.92,331.30 L448.50,331.30 L448.50,505.70 L273.90,505.70 Z" fill="#84c4e1"/>
<line x1="266.9" y1="512.4" x2="455.59999999999997" y2="324.3" stroke="#d4d4d4" stroke-width="0.9"/>
<line x1="273.9" y1="505.7" x2="448.5" y2="331.3" stroke="#a9abb0" stroke-width="1"/>
<rect x="273.9" y="331.3" width="174.6" height="174.4" fill="none" stroke="#666" stroke-width="0.8"/>
<path d="M273.90,505.70 L274.48,495.61 L275.06,492.41 L275.65,489.80 L276.23,487.59 L276.81,485.23 L277.39,482.50 L277.97,480.16 L278.56,477.60 L279.14,475.38 L279.72,473.55 L280.30,471.82 L280.88,470.64 L281.47,468.78 L282.05,467.54 L282.63,466.36 L283.21,465.90 L283.79,464.93 L284.38,463.33 L284.96,461.63 L285.54,459.75 L286.12,457.64 L286.70,455.38 L287.29,453.86 L287.87,452.18 L288.45,450.56 L289.03,449.31 L289.61,447.08 L290.20,445.52 L290.78,443.73 L291.36,442.59 L291.94,441.13 L292.52,439.40 L293.11,437.59 L293.69,435.58 L294.27,433.09 L294.85,430.39 L295.43,428.39 L296.02,427.06 L296.60,425.19 L297.18,424.23 L297.76,422.76 L298.34,421.38 L298.93,420.77 L299.51,419.41 L300.09,417.76 L300.67,417.41 L301.25,416.13 L301.84,414.97 L302.42,414.14 L303.00,412.82 L303.58,411.85 L304.16,411.31 L304.75,409.83 L305.33,408.67 L305.91,407.96 L306.49,407.20 L307.07,406.90 L307.66,406.57 L308.24,406.57 L308.82,405.75 L309.40,405.45 L309.98,405.00 L310.57,404.72 L311.15,403.80 L311.73,402.71 L312.31,401.12 L312.89,400.88 L313.48,400.18 L314.06,398.95 L314.64,397.56 L315.22,396.74 L315.80,396.72 L316.39,396.50 L316.97,395.10 L317.55,394.35 L318.13,393.72 L318.71,392.35 L319.30,391.24 L319.88,390.60 L320.46,389.86 L321.04,389.07 L321.62,388.21 L322.21,387.85 L322.79,387.46 L323.37,387.02 L323.95,387.02 L324.53,386.20 L325.12,385.56 L325.70,385.13 L326.28,385.13 L326.86,384.98 L327.44,384.03 L328.03,384.03 L328.61,383.47 L329.19,382.52 L329.77,382.52 L330.35,381.53 L330.94,381.15 L331.52,381.01 L332.10,380.60 L332.68,380.11 L333.26,379.85 L333.85,379.21 L334.43,379.21 L335.01,378.52 L335.59,377.18 L336.17,376.34 L336.76,375.73 L337.34,374.37 L337.92,373.04 L338.50,372.50 L339.08,372.04 L339.67,371.31 L340.25,370.67 L340.83,370.10 L341.41,368.99 L341.99,368.91 L342.58,367.86 L343.16,367.86 L343.74,367.66 L344.32,366.89 L344.90,366.15 L345.49,365.67 L346.07,365.40 L346.65,365.13 L347.23,364.80 L347.81,364.30 L348.40,364.09 L348.98,363.65 L349.56,363.21 L350.14,363.01 L350.72,362.51 L351.31,362.16 L351.89,361.37 L352.47,361.34 L353.05,361.34 L353.63,361.25 L354.22,360.90 L354.80,360.27 L355.38,360.20 L355.96,359.80 L356.54,359.00 L357.13,359.00 L357.71,359.00 L358.29,358.99 L358.87,358.47 L359.45,358.11 L360.04,358.00 L360.62,357.45 L361.20,357.15 L361.78,357.10 L362.36,355.99 L362.95,355.94 L363.53,355.94 L364.11,355.81 L364.69,355.59 L365.27,355.27 L365.86,355.27 L366.44,355.21 L367.02,354.32 L367.60,354.32 L368.18,354.22 L368.77,353.66 L369.35,353.33 L369.93,352.89 L370.51,352.89 L371.09,352.89 L371.68,352.89 L372.26,352.83 L372.84,352.41 L373.42,352.41 L374.00,352.41 L374.59,352.41 L375.17,352.30 L375.75,352.30 L376.33,351.73 L376.91,350.68 L377.50,350.42 L378.08,350.23 L378.66,349.85 L379.24,349.78 L379.82,349.73 L380.41,349.10 L380.99,348.85 L381.57,348.85 L382.15,348.12 L382.73,348.12 L383.32,348.12 L383.90,348.12 L384.48,348.12 L385.06,348.11 L385.64,348.05 L386.23,347.82 L386.81,347.82 L387.39,347.82 L387.97,347.82 L388.55,347.82 L389.14,347.82 L389.72,347.82 L390.30,347.03 L390.88,346.65 L391.46,346.14 L392.05,346.14 L392.63,346.14 L393.21,346.14 L393.79,345.99 L394.37,345.32 L394.96,345.32 L395.54,344.95 L396.12,344.68 L396.70,344.68 L397.28,344.68 L397.87,344.43 L398.45,344.35 L399.03,344.35 L399.61,343.95 L400.19,343.64 L400.78,343.04 L401.36,343.04 L401.94,342.84 L402.52,342.34 L403.10,341.99 L403.69,341.99 L404.27,341.99 L404.85,341.86 L405.43,341.76 L406.01,341.61 L406.60,341.02 L407.18,341.02 L407.76,341.02 L408.34,341.02 L408.92,341.02 L409.51,340.65 L410.09,340.27 L410.67,340.27 L411.25,339.98 L411.83,339.46 L412.42,339.37 L413.00,338.85 L413.58,338.85 L414.16,338.54 L414.74,338.12 L415.33,337.78 L415.91,337.78 L416.49,337.78 L417.07,337.78 L417.65,337.78 L418.24,337.78 L418.82,337.69 L419.40,337.69 L419.98,337.46 L420.56,337.24 L421.15,336.98 L421.73,336.95 L422.31,336.58 L422.89,335.83 L423.47,335.83 L424.06,335.72 L424.64,335.39 L425.22,335.39 L425.80,335.39 L426.38,335.39 L426.97,335.00 L427.55,335.00 L428.13,335.00 L428.71,334.55 L429.29,334.18 L429.88,334.16 L430.46,333.82 L431.04,333.76 L431.62,333.76 L432.20,333.76 L432.79,333.76 L433.37,333.26 L433.95,333.26 L434.53,333.26 L435.11,333.26 L435.70,333.26 L436.28,333.17 L436.86,333.17 L437.44,332.77 L438.02,332.77 L438.61,332.73 L439.19,332.68 L439.77,332.68 L440.35,332.33 L440.93,332.28 L441.52,332.28 L442.10,332.28 L442.68,332.20 L443.26,332.17 L443.84,331.74 L444.43,331.51 L445.01,331.39 L445.59,331.39 L446.17,331.30 L446.75,331.30 L447.34,331.30 L447.92,331.30 L448.50,331.30" fill="none" stroke="#0a0a0a" stroke-width="1.3" stroke-linejoin="round"/>
<line x1="261.9" y1="505.70" x2="266.9" y2="505.70" stroke="#333" stroke-width="0.8"/>
<line x1="273.90" y1="512.4" x2="273.90" y2="517.4" stroke="#333" stroke-width="0.8"/>
<text x="273.90" y="531.4" text-anchor="middle" font-family="'Liberation Sans', Arial, Helvetica, sans-serif" font-size="8.3" fill="#111" stroke="#111" stroke-width="0.15">0.0</text>
<text transform="translate(255.40,505.70) rotate(-90)" text-anchor="middle" font-family="'Liberation Sans', Arial, Helvetica, sans-serif" font-size="8.3" fill="#111" stroke="#111" stroke-width="0.15">0.0</text>
<line x1="261.9" y1="470.82" x2="266.9" y2="470.82" stroke="#333" stroke-width="0.8"/>
<line x1="308.82" y1="512.4" x2="308.82" y2="517.4" stroke="#333" stroke-width="0.8"/>
<text x="308.82" y="531.4" text-anchor="middle" font-family="'Liberation Sans', Arial, Helvetica, sans-serif" font-size="8.3" fill="#111" stroke="#111" stroke-width="0.15">0.2</text>
<text transform="translate(255.40,470.82) rotate(-90)" text-anchor="middle" font-family="'Liberation Sans', Arial, Helvetica, sans-serif" font-size="8.3" fill="#111" stroke="#111" stroke-width="0.15">0.2</text>
<line x1="261.9" y1="435.94" x2="266.9" y2="435.94" stroke="#333" stroke-width="0.8"/>
<line x1="343.74" y1="512.4" x2="343.74" y2="517.4" stroke="#333" stroke-width="0.8"/>
<text x="343.74" y="531.4" text-anchor="middle" font-family="'Liberation Sans', Arial, Helvetica, sans-serif" font-size="8.3" fill="#111" stroke="#111" stroke-width="0.15">0.4</text>
<text transform="translate(255.40,435.94) rotate(-90)" text-anchor="middle" font-family="'Liberation Sans', Arial, Helvetica, sans-serif" font-size="8.3" fill="#111" stroke="#111" stroke-width="0.15">0.4</text>
<line x1="261.9" y1="401.06" x2="266.9" y2="401.06" stroke="#333" stroke-width="0.8"/>
<line x1="378.66" y1="512.4" x2="378.66" y2="517.4" stroke="#333" stroke-width="0.8"/>
<text x="378.66" y="531.4" text-anchor="middle" font-family="'Liberation Sans', Arial, Helvetica, sans-serif" font-size="8.3" fill="#111" stroke="#111" stroke-width="0.15">0.6</text>
<text transform="translate(255.40,401.06) rotate(-90)" text-anchor="middle" font-family="'Liberation Sans', Arial, Helvetica, sans-serif" font-size="8.3" fill="#111" stroke="#111" stroke-width="0.15">0.6</text>
<line x1="261.9" y1="366.18" x2="266.9" y2="366.18" stroke="#333" stroke-width="0.8"/>
<line x1="413.58" y1="512.4" x2="413.58" y2="517.4" stroke="#333" stroke-width="0.8"/>
<text x="413.58" y="531.4" text-anchor="middle" font-family="'Liberation Sans', Arial, Helvetica, sans-serif" font-size="8.3" fill="#111" stroke="#111" stroke-width="0.15">0.8</text>
<text transform="translate(255.40,366.18) rotate(-90)" text-anchor="middle" font-family="'Liberation Sans', Arial, Helvetica, sans-serif" font-size="8.3" fill="#111" stroke="#111" stroke-width="0.15">0.8</text>
<line x1="261.9" y1="331.30" x2="266.9" y2="331.30" stroke="#333" stroke-width="0.8"/>
<line x1="448.50" y1="512.4" x2="448.50" y2="517.4" stroke="#333" stroke-width="0.8"/>
<text x="448.50" y="531.4" text-anchor="middle" font-family="'Liberation Sans', Arial, Helvetica, sans-serif" font-size="8.3" fill="#111" stroke="#111" stroke-width="0.15">1.0</text>
<text transform="translate(255.40,331.30) rotate(-90)" text-anchor="middle" font-family="'Liberation Sans', Arial, Helvetica, sans-serif" font-size="8.3" fill="#111" stroke="#111" stroke-width="0.15">1.0</text>
<text x="361.2" y="546" text-anchor="middle" font-family="'Liberation Sans', Arial, Helvetica, sans-serif" font-size="8.3" fill="#111" stroke="#111" stroke-width="0.15">1 – Specificity</text>
<text transform="translate(239.90,418.50) rotate(-90)" text-anchor="middle" font-family="'Liberation Sans', Arial, Helvetica, sans-serif" font-size="8.3" fill="#111" stroke="#111" stroke-width="0.15">Sensitivity</text>
<text x="308.8" y="424.5" font-family="'Liberation Sans', Arial, Helvetica, sans-serif" font-size="8.3" fill="#111" stroke="#111" stroke-width="0.15">AUC: 0.756 (0.727–0.786)</text>
</svg>
</body></html>
